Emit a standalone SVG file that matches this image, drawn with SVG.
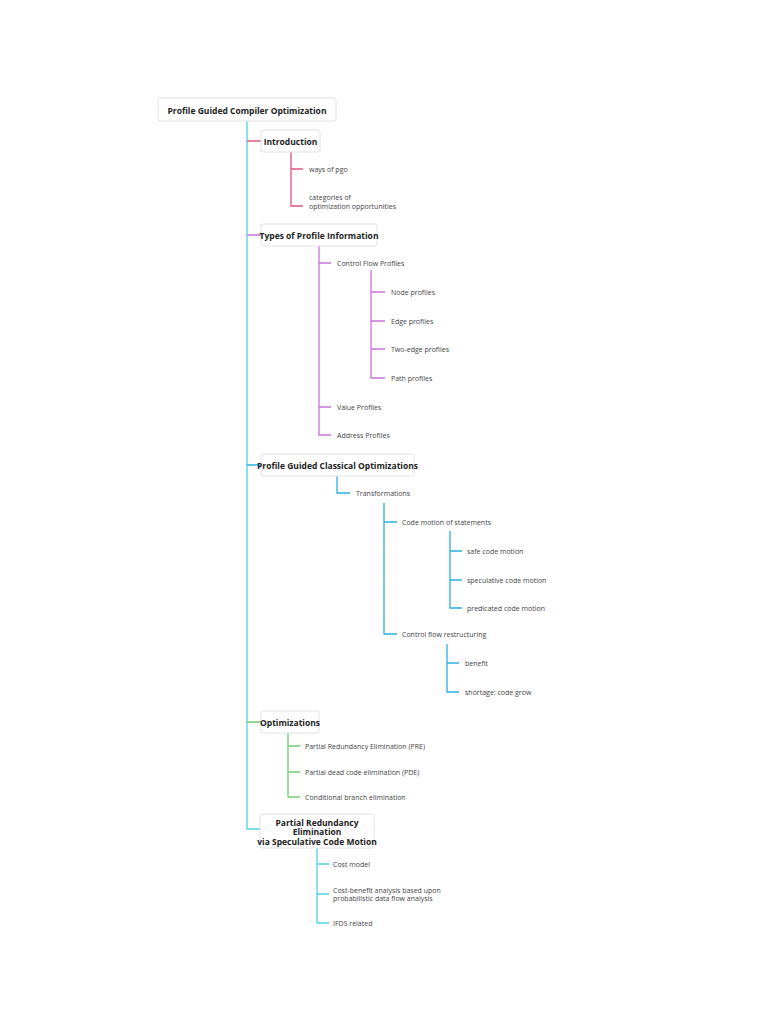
<svg xmlns="http://www.w3.org/2000/svg" width="768" height="1024" viewBox="0 0 768 1024">
<style>
.box{fill:#fff;stroke:#e2e2e2;stroke-width:1}
.t{font-family:"Open Sans","Liberation Sans",sans-serif;font-weight:bold;font-size:8.5px;fill:#222;text-anchor:middle;dominant-baseline:central}
.l{font-family:"Open Sans","Liberation Sans",sans-serif;font-size:7px;fill:#444;dominant-baseline:central}
.c{fill:none;stroke-width:1.3}
.pk{stroke:#d9577f}.pu{stroke:#c973dc}.bl{stroke:#2aaee3}.gr{stroke:#72cc6f}.cy{stroke:#4fd2e3}
</style>
<rect width="768" height="1024" fill="#fff"/>
<g id="connectors">
<path class="c cy" d="M247 121V829H260"/>
<path class="c pk" d="M247 141H261M291 151V206H303M291 169H303"/>
<path class="c pu" d="M247 235H261M319 246V435H331M319 263H331M319 407H331M371 270V378H385M371 292H385M371 321H385M371 349H385"/>
<path class="c bl" d="M247 465H261M337 476V493H350M384 503V634H397M384 522H397M450 531V608H462M450 551H462M450 580H462M447 644V692H459M447 663H459"/>
<path class="c gr" d="M247 722H261M288 733V797H300M288 746H300M288 772H300"/>
<path class="c cy" d="M317 848V923H329M317 864H329M317 894H329"/>
</g>
<g id="root"><rect class="box" x="158" y="98" width="178" height="23" rx="2"/><text class="t" x="247" y="110" font-size="9.5">Profile Guided Compiler Optimization</text></g>
<g id="intro"><rect class="box" x="261" y="130" width="59" height="22" rx="2"/><text class="t" x="290.5" y="141">Introduction</text></g>
<g id="ways"><text class="l" x="309" y="169">ways of pgo</text></g>
<g id="categories"><text class="l" x="309" y="197">categories of</text><text class="l" x="309" y="206">optimization opportunities</text></g>
<g id="types"><rect class="box" x="261" y="224" width="116" height="22" rx="2"/><text class="t" x="319" y="235">Types of Profile Information</text></g>
<g id="cfp"><text class="l" x="337" y="263">Control Flow Profiles</text></g>
<g id="node"><text class="l" x="391" y="292">Node profiles</text></g>
<g id="edge"><text class="l" x="391" y="321">Edge profiles</text></g>
<g id="twoedge"><text class="l" x="391" y="349">Two-edge profiles</text></g>
<g id="path"><text class="l" x="391" y="378">Path profiles</text></g>
<g id="value"><text class="l" x="337" y="407">Value Profiles</text></g>
<g id="address"><text class="l" x="337" y="435">Address Profiles</text></g>
<g id="classical"><rect class="box" x="261" y="454" width="153" height="22" rx="2"/><text class="t" x="337.5" y="465">Profile Guided Classical Optimizations</text></g>
<g id="transformations"><text class="l" x="356" y="493">Transformations</text></g>
<g id="codemotion"><text class="l" x="402" y="522">Code motion of statements</text></g>
<g id="safe"><text class="l" x="467" y="551">safe code motion</text></g>
<g id="spec"><text class="l" x="467" y="580">speculative code motion</text></g>
<g id="pred"><text class="l" x="467" y="608">predicated code motion</text></g>
<g id="cfr"><text class="l" x="402" y="634">Control flow restructuring</text></g>
<g id="benefit"><text class="l" x="465" y="663">benefit</text></g>
<g id="shortage"><text class="l" x="465" y="692">shortage: code grow</text></g>
<g id="opts"><rect class="box" x="261" y="711" width="58" height="22" rx="2"/><text class="t" x="290" y="722">Optimizations</text></g>
<g id="pre"><text class="l" x="305" y="746">Partial Redundancy Elimination (PRE)</text></g>
<g id="pde"><text class="l" x="305" y="772">Partial dead code elimination (PDE)</text></g>
<g id="cbe"><text class="l" x="305" y="797">Conditional branch elimination</text></g>
<g id="prescm"><rect class="box" x="260" y="814" width="114" height="34" rx="2"/><text class="t" x="317" y="822">Partial Redundancy</text><text class="t" x="317" y="831">Elimination</text><text class="t" x="317" y="841">via Speculative Code Motion</text></g>
<g id="cost"><text class="l" x="333" y="864">Cost model</text></g>
<g id="costbenefit"><text class="l" x="333" y="890">Cost-benefit analysis based upon</text><text class="l" x="333" y="898">probabilistic data flow analysis</text></g>
<g id="ifds"><text class="l" x="333" y="923">IFDS related</text></g>
</svg>
